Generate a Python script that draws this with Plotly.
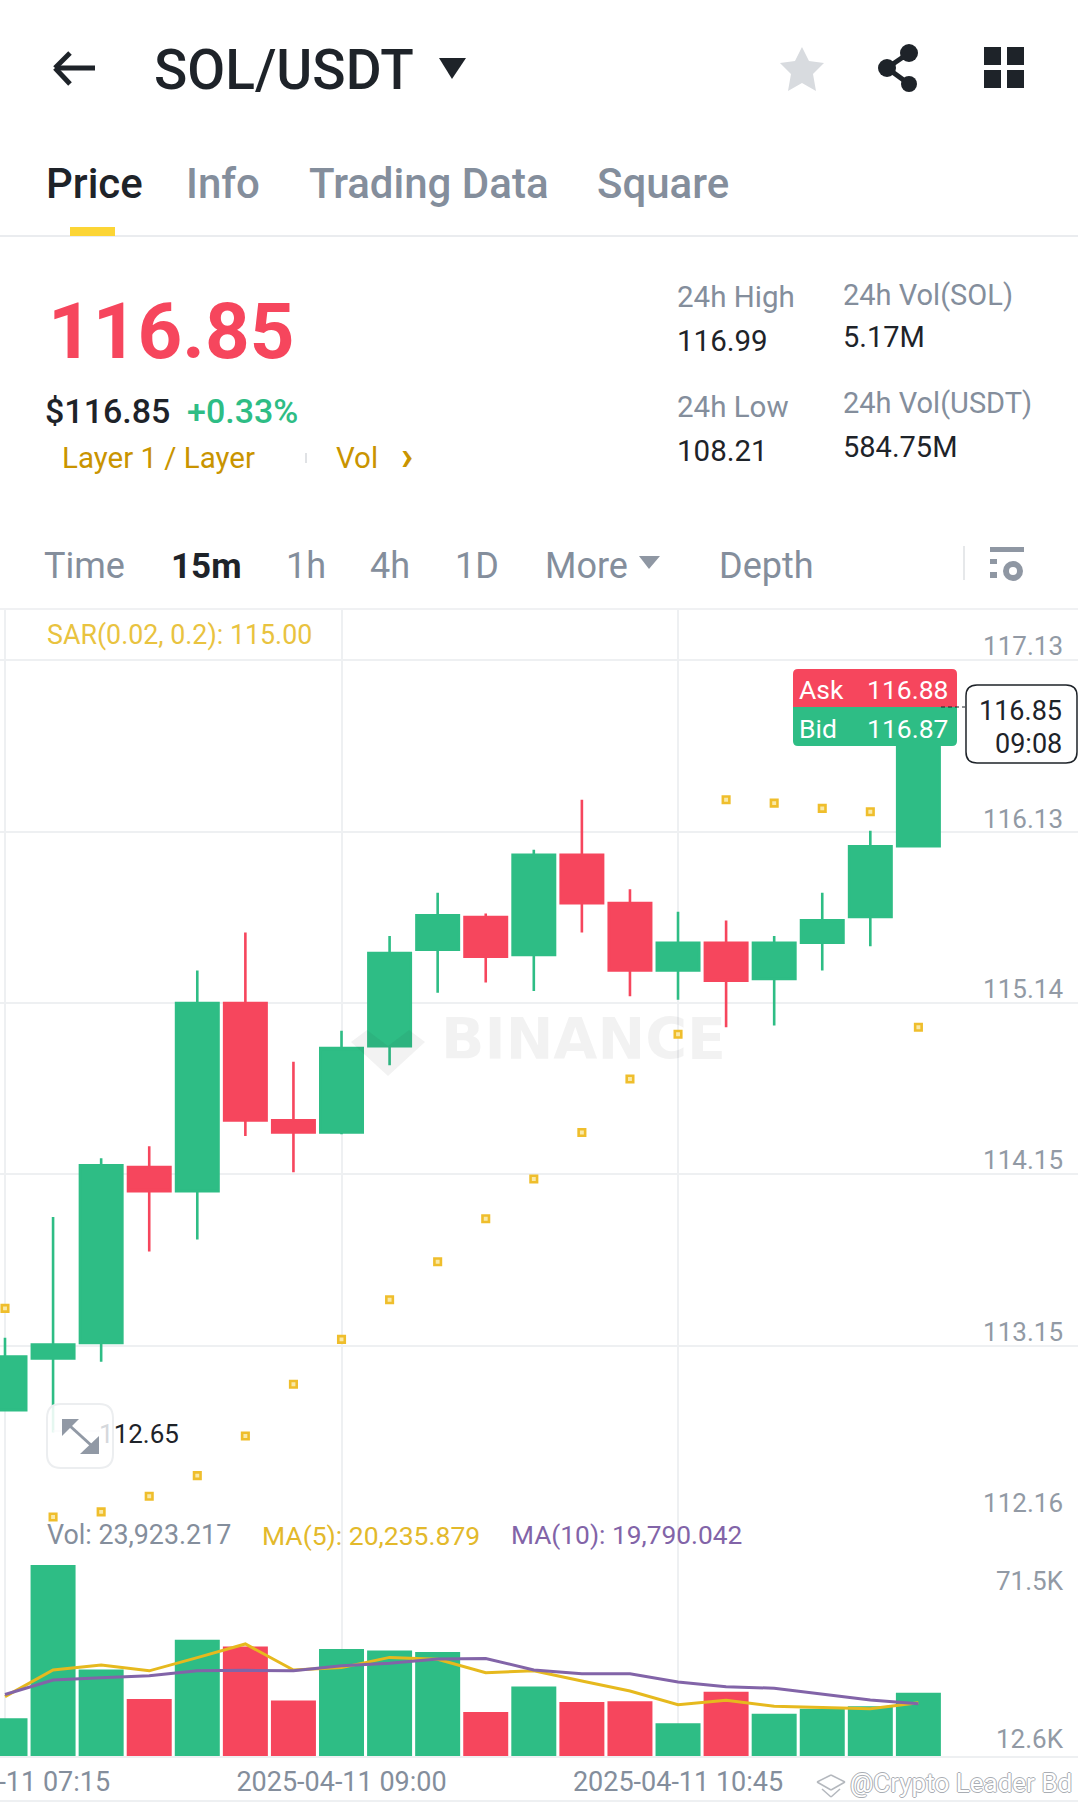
import pandas as pd
import plotly.graph_objects as go

W, H = 1078, 1806
FONT = "Roboto"
GREEN = "#2ebd85"
RED = "#f6465d"
DARK = "#1e2329"
GREY = "#848e9c"
GOLD = "#c99400"
SAR_YEL = "#efbe2c"
LINE = "#eef0f2"

# 15m candles
times = ["2025-04-11 07:15", "2025-04-11 07:30", "2025-04-11 07:45", "2025-04-11 08:00",
         "2025-04-11 08:15", "2025-04-11 08:30", "2025-04-11 08:45", "2025-04-11 09:00",
         "2025-04-11 09:15", "2025-04-11 09:30", "2025-04-11 09:45", "2025-04-11 10:00",
         "2025-04-11 10:15", "2025-04-11 10:30", "2025-04-11 10:45", "2025-04-11 11:00",
         "2025-04-11 11:15", "2025-04-11 11:30", "2025-04-11 11:45", "2025-04-11 12:00"]
opens = [112.78, 113.08, 113.17, 114.19, 114.05, 115.14, 114.46, 114.39, 114.89, 115.45,
         115.64, 115.42, 116.00, 115.72, 115.33, 115.49, 115.28, 115.49, 115.64, 116.05]
highs = [113.20, 113.90, 114.24, 114.31, 115.33, 115.55, 114.80, 114.98, 115.53, 115.78,
         115.66, 116.03, 116.32, 115.80, 115.67, 115.62, 115.53, 115.78, 116.14, 116.85]
lows = [112.78, 112.65, 113.06, 113.70, 113.77, 114.37, 114.16, 114.38, 114.78, 115.20,
        115.26, 115.21, 115.55, 115.18, 115.16, 115.00, 115.01, 115.33, 115.47, 116.05]
closes = [113.09, 113.16, 114.20, 114.05, 115.14, 114.46, 114.39, 114.88, 115.43, 115.65,
          115.41, 116.00, 115.72, 115.33, 115.49, 115.27, 115.49, 115.62, 116.05, 116.85]
sar = [113.37, 112.16, 112.19, 112.28, 112.40, 112.63, 112.93, 113.19, 113.42, 113.64,
       113.89, 114.12, 114.39, 114.70, 114.96, 116.32, 116.30, 116.27, 116.25, 115.00]
volumes = [14400, 71500, 32600, 21600, 43700, 41200, 21000, 40200, 39700, 39100,
           16800, 26300, 20500, 20800, 12600, 24300, 16100, 18000, 18900, 23923.217]
ma5 = [22500, 32400, 34300, 32100, 37000, 42100, 32400, 33300, 37100, 36400,
       31400, 32100, 28300, 24600, 19500, 21100, 18900, 18400, 18000, 20235.879]
ma10 = [23300, 28700, 29500, 30300, 32100, 32300, 32100, 34000, 34900, 36500,
        36700, 32400, 31000, 31000, 27900, 26200, 25600, 23300, 21200, 19790.042]
price_ticks = [117.13, 116.13, 115.14, 114.15, 113.15, 112.16]
price_tick_text = ["117.13", "116.13", "115.14", "114.15", "113.15", "112.16"]
vol_ticks = [71500, 12600]
vol_tick_text = ["71.5K", "12.6K"]
date_ticks = ["2025-04-11 07:15", "2025-04-11 09:00", "2025-04-11 10:45"]

bar_ms = 15 * 60 * 1000
bar_colors = [GREEN if c >= o else RED for o, c in zip(opens, closes)]
t0 = pd.Timestamp(times[0])
x_start = t0 + pd.Timedelta(milliseconds=-0.104 * bar_ms)
x_end = t0 + pd.Timedelta(milliseconds=22.32 * bar_ms)


def sx(x):
    return x / W


def sy(y):
    return 1 - y / H


def poly(points, color, line_w=0):
    path = "M " + " L ".join(f"{sx(x):.5f} {sy(y):.5f}" for x, y in points) + " Z"
    return dict(type="path", xref="paper", yref="paper", path=path, fillcolor=color,
                line=dict(color=color, width=line_w))


def seg(x0, y0, x1, y1, color, width=2):
    return dict(type="line", xref="paper", yref="paper", x0=sx(x0), y0=sy(y0), x1=sx(x1), y1=sy(y1),
                line=dict(color=color, width=width))


def box(x0, y0, x1, y1, color):
    return dict(type="rect", xref="paper", yref="paper", x0=sx(x0), y0=sy(y0), x1=sx(x1), y1=sy(y1),
                fillcolor=color, line=dict(width=0))


def dot(cx, cy, r, color):
    return dict(type="circle", xref="paper", yref="paper", x0=sx(cx - r), y0=sy(cy - r), x1=sx(cx + r), y1=sy(cy + r),
                fillcolor=color, line=dict(width=0))


def round_box(x0, y0, x1, y1, r, fill, line_color=None, line_w=0, top=True, bottom=True):
    rt = r if top else 0
    rb = r if bottom else 0
    p = [f"M {sx(x0 + rt):.5f} {sy(y0):.5f}", f"L {sx(x1 - rt):.5f} {sy(y0):.5f}",
         f"Q {sx(x1):.5f} {sy(y0):.5f} {sx(x1):.5f} {sy(y0 + rt):.5f}",
         f"L {sx(x1):.5f} {sy(y1 - rb):.5f}",
         f"Q {sx(x1):.5f} {sy(y1):.5f} {sx(x1 - rb):.5f} {sy(y1):.5f}",
         f"L {sx(x0 + rb):.5f} {sy(y1):.5f}",
         f"Q {sx(x0):.5f} {sy(y1):.5f} {sx(x0):.5f} {sy(y1 - rb):.5f}",
         f"L {sx(x0):.5f} {sy(y0 + rt):.5f}",
         f"Q {sx(x0):.5f} {sy(y0):.5f} {sx(x0 + rt):.5f} {sy(y0):.5f} Z"]
    return dict(type="path", xref="paper", yref="paper", path=" ".join(p), fillcolor=fill,
                line=dict(color=line_color or fill, width=line_w))


def label(x, y, text, size, color, anchor="left", weight=400, family=FONT, shadow=None):
    font = dict(family=family, size=size, color=color, weight=weight)
    if shadow:
        font["shadow"] = shadow
    return dict(xref="paper", yref="paper", x=sx(x), y=sy(y), text=text,
                showarrow=False, xanchor=anchor, yanchor="middle", borderpad=0, font=font)


fig = go.Figure()
fig.add_trace(go.Candlestick(x=times, open=opens, high=highs, low=lows, close=closes,
                             whiskerwidth=0, hoverinfo="skip", showlegend=False,
                             increasing=dict(line=dict(color=GREEN, width=2.6), fillcolor=GREEN),
                             decreasing=dict(line=dict(color=RED, width=2.6), fillcolor=RED),
                             xaxis="x", yaxis="y"))
fig.add_trace(go.Scatter(x=times, y=sar, mode="markers", hoverinfo="skip", showlegend=False, cliponaxis=False,
                         marker=dict(symbol="square", size=6.5, color="#f9e9a8", line=dict(color=SAR_YEL, width=2.6)),
                         xaxis="x", yaxis="y"))
fig.add_trace(go.Bar(x=times, y=volumes, width=0.936 * bar_ms, marker=dict(color=bar_colors, line=dict(width=0)),
                     hoverinfo="skip", showlegend=False, xaxis="x2", yaxis="y2"))
fig.add_trace(go.Scatter(x=times, y=ma5, mode="lines", line=dict(color="#e6b91e", width=3), hoverinfo="skip",
                         showlegend=False, xaxis="x2", yaxis="y2"))
fig.add_trace(go.Scatter(x=times, y=ma10, mode="lines", line=dict(color="#8264a8", width=3), hoverinfo="skip",
                         showlegend=False, xaxis="x2", yaxis="y2"))

shapes = [
    # divider lines
    seg(0, 236, W, 236, "#eaecef", 2),
    seg(0, 609, W, 609, "#f0f1f3", 2),
    seg(0, 1757, W, 1757, "#eef0f2", 2),
    seg(0, 1801, W, 1801, "#eef0f2", 2),
    # back arrow
    seg(55, 68, 95, 68, DARK, 5),
    seg(55, 68, 70, 53, DARK, 5),
    seg(55, 68, 70, 84, DARK, 5),
    poly([(439, 58), (466, 58), (452, 79)], DARK),
    # star
    poly([(802, 47), (809, 61), (824, 63), (813, 74), (816, 91), (802, 83), (788, 91), (791, 74), (780, 63), (795, 61)], "#d8dbdf"),
    # share
    seg(909, 53, 887, 68, DARK, 5),
    seg(887, 68, 909, 84, DARK, 5),
    dot(909, 53, 9, DARK),
    dot(887, 68, 9, DARK),
    dot(909, 84, 8, DARK),
    # grid icon
    box(984, 47, 1001, 65, DARK),
    box(1007, 47, 1024, 65, DARK),
    box(984, 70, 1001, 88, DARK),
    box(1007, 70, 1024, 88, DARK),
    # tab marker
    box(70, 227, 115, 236, "#fcd535"),
    seg(306, 453, 306, 463, "#e0e2e5", 2),
    # more triangle, divider and settings
    poly([(639, 556), (660, 556), (649, 569)], "#8f97a3"),
    seg(964, 546, 964, 580, "#e6e8ea", 2),
    box(990, 547, 1024, 552, "#8f97a3"),
    box(990, 559, 997, 564, "#8f97a3"),
    box(990, 572, 997, 578, "#8f97a3"),
    dot(1013, 571, 10, "#8f97a3"),
    dot(1013, 571, 4, "white"),
    # low leader line
    seg(53, 1431, 100, 1431, "#c8ccd1", 1),
    # expand button
    round_box(47, 1404, 113, 1468, 14, "rgba(255,255,255,0.88)", "#eceef0", 2),
    seg(70, 1426, 92, 1446, "#9199a5", 3),
    poly([(62, 1419), (79, 1419), (62, 1436)], "#9199a5"),
    poly([(99, 1454), (80, 1454), (99, 1436)], "#9199a5"),
    # ask and bid tags
    round_box(793, 669, 957, 707, 5, RED, bottom=False),
    round_box(793, 707, 957, 746, 5, GREEN, top=False),
    dict(type="line", xref="paper", yref="paper", x0=sx(941), x1=sx(965), y0=sy(707), y1=sy(707),
         line=dict(color=DARK, width=1, dash="4px,3px")),
    # current price box
    round_box(966, 685, 1077, 763, 11, "white", DARK, 1.5),
    # watermark logo
    poly([(388, 1046), (409, 1030), (425, 1042), (388, 1076), (351, 1042), (367, 1030)], "rgba(30,35,41,0.06)"),
    # footer logo
    seg(817, 1782, 831, 1775, "#b4b8be", 1.5),
    seg(831, 1775, 845, 1782, "#b4b8be", 1.5),
    seg(817, 1782, 831, 1790, "#b4b8be", 1.5),
    seg(831, 1790, 845, 1782, "#b4b8be", 1.5),
    seg(822, 1789, 831, 1797, "#b4b8be", 1.5),
    seg(831, 1797, 840, 1789, "#b4b8be", 1.5),
]

footer_shadow = "-1px 0 0 #a9adb3, 1px 0 0 #a9adb3, 0 -1px 0 #a9adb3, 0 1px 0 #a9adb3"

annotations = [
    label(153, 70, "SOL/USDT", 55, DARK, weight=500),
    label(45, 183, "Price", 42, DARK, weight=500),
    label(185, 183, "Info", 42, GREY, weight=500),
    label(308, 183, "Trading Data", 42, GREY, weight=500),
    label(596, 183, "Square", 42, GREY, weight=500),
    label(47, 332, "116.85", 78, RED, weight=700),
    label(44, 411, "$116.85", 34, DARK, weight=500),
    label(186, 411, "+0.33%", 34, GREEN, weight=500),
    label(61, 458, "Layer 1 / Layer", 29.5, GOLD),
    label(335, 458, "Vol", 29.5, GOLD),
    label(400, 456, "›", 40, GOLD, weight=700),
    label(676, 297, "24h High", 29.5, GREY),
    label(676, 341, "116.99", 29.5, DARK),
    label(676, 407, "24h Low", 29.5, GREY),
    label(676, 451, "108.21", 29.5, DARK),
    label(842, 295, "24h Vol(SOL)", 29, GREY),
    label(842, 337, "5.17M", 29, DARK),
    label(842, 403, "24h Vol(USDT)", 29, GREY),
    label(842, 447, "584.75M", 29, DARK),
    label(43, 566, "Time", 36, GREY),
    label(170, 566, "15m", 35, DARK, weight=700),
    label(285, 566, "1h", 36, GREY),
    label(369, 566, "4h", 36, GREY),
    label(454, 566, "1D", 36, GREY),
    label(544, 566, "More", 36, GREY),
    label(718, 566, "Depth", 36, GREY),
    label(46, 635, "SAR(0.02, 0.2): 115.00", 26.8, "#e9c33f"),
    label(46, 1535, "Vol: 23,923.217", 26.8, GREY),
    label(261, 1535, "MA(5): 20,235.879", 26.5, "#e3b92b"),
    label(510, 1535, "MA(10): 19,790.042", 26.3, "#8264a8"),
    label(98, 1434, "<span style='color:#d5d8dc'>1</span>12.65", 26, DARK),
    label(798, 690, "Ask", 26.5, "white"),
    label(949, 690, "116.88", 26.5, "white", anchor="right"),
    label(798, 729, "Bid", 26.5, "white"),
    label(949, 729, "116.87", 26.5, "white", anchor="right"),
    label(1063, 711, "116.85", 27, DARK, anchor="right"),
    label(1063, 744, "09:08", 27, DARK, anchor="right"),
    label(583, 1039, "BINANCE", 57, "rgba(30,35,41,0.06)", anchor="center", weight=700, family="DejaVu Sans"),
    label(849, 1783, "@Crypto Leader Bd", 26, "white", shadow=footer_shadow),
]

fig.update_layout(
    width=W, height=H, margin=dict(l=0, r=0, t=0, b=0, autoexpand=False),
    paper_bgcolor="white", plot_bgcolor="white",
    showlegend=False, dragmode=False, barmode="overlay",
    boxgap=0.118, boxgroupgap=0,
    shapes=shapes, annotations=annotations,
    font=dict(family=FONT, color=GREY),
    xaxis=dict(type="date", domain=[0, 1], range=[x_start, x_end], anchor="y",
               rangeslider=dict(visible=False), showticklabels=False, ticks="",
               tickmode="array", tickvals=date_ticks, showgrid=True, gridcolor=LINE, gridwidth=1.5,
               zeroline=False, showline=False),
    yaxis=dict(domain=[sy(1517), sy(609)], range=[112.16, 117.426], anchor="x", side="right",
               tickmode="array", tickvals=price_ticks, ticktext=price_tick_text,
               ticklabelposition="inside", ticklabeloverflow="allow", ticklabelstandoff=12, ticklabelshift=-14,
               tickfont=dict(family=FONT, size=26, color="#929aa5"), ticks="",
               showgrid=True, gridcolor=LINE, gridwidth=1.5, zeroline=False, showline=False),
    xaxis2=dict(type="date", domain=[0, 1], range=[x_start, x_end], anchor="y2", matches="x",
                tickmode="array", tickvals=date_ticks, ticktext=date_ticks,
                ticklabeloverflow="allow", ticks="", ticklabelstandoff=6,
                tickfont=dict(family=FONT, size=27, color=GREY),
                showgrid=True, gridcolor=LINE, gridwidth=1.5, zeroline=False, showline=False),
    yaxis2=dict(domain=[sy(1757), sy(1517)], range=[0, 89400], anchor="x2", side="right",
                tickmode="array", tickvals=vol_ticks, ticktext=vol_tick_text,
                ticklabelposition="inside", ticklabeloverflow="allow", ticklabelstandoff=12, ticklabelshift=16,
                tickfont=dict(family=FONT, size=26, color="#929aa5"), ticks="",
                showgrid=False, zeroline=False, showline=False),
)

fig.write_html("out.html", config=dict(displayModeBar=False), post_script="document.body.style.margin='0';")
